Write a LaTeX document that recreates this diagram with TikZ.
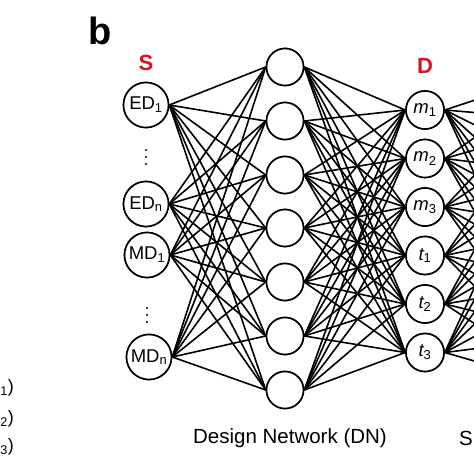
\documentclass[tikz,border=0pt]{standalone}
\usepackage{fontspec}
\setmainfont{Liberation Sans}
\definecolor{labred}{RGB}{214,22,28}
\begin{document}
\begin{tikzpicture}[x=1pt,y=-1pt,
  neuron/.style={circle,draw=black,line width=1.6pt,fill=white,inner sep=0pt},
  inneuron/.style={neuron,minimum size=45pt,font=\fontsize{18.5}{18.5}\selectfont},
  hidneuron/.style={neuron,minimum size=37pt},
  outneuron/.style={neuron,minimum size=38pt,font=\fontsize{18.5}{18.5}\selectfont},
  link/.style={line width=1.6pt,black},
  redlabel/.style={text=labred,font=\fontsize{22}{22}\selectfont\bfseries},
  dotmark/.style={fill=black,circle,inner sep=0pt,minimum size=2.2pt}
]
\useasboundingbox (0,0) rectangle (474,474);
\clip (0,0) rectangle (474,474);
% input layer
\node[inneuron] (i1) at (146,105) {ED\textsubscript{1}};
\node[inneuron] (i2) at (146,204) {ED\textsubscript{n}};
\node[inneuron] (i3) at (147,255) {MD\textsubscript{1}};
\node[inneuron] (i4) at (149,357) {MD\textsubscript{n}};
% hidden layer
\foreach \k/\yy in {1/67,2/121,3/175,4/228,5/282,6/336,7/390}
  \node[hidneuron] (h\k) at (285,\yy) {};
% output layer
\node[outneuron] (o1) at (425,110) {\itshape m\textsubscript{\upshape 1}};
\node[outneuron] (o2) at (425,158.5) {\itshape m\textsubscript{\upshape 2}};
\node[outneuron] (o3) at (425,207) {\itshape m\textsubscript{\upshape 3}};
\node[outneuron] (o4) at (425,255.5) {\itshape t\textsubscript{\upshape 1}};
\node[outneuron] (o5) at (425,304) {\itshape t\textsubscript{\upshape 2}};
\node[outneuron] (o6) at (425,352.5) {\itshape t\textsubscript{\upshape 3}};
% next (off-frame) layer
\foreach \k/\yy in {1/67,2/121,3/175,4/228,5/282,6/336,7/390}
  \coordinate (n\k) at (575,\yy);
% connections
\foreach \a in {1,...,4}
  \foreach \b in {1,...,7}
    \draw[link] (i\a.east) -- (h\b.west);
\foreach \a in {1,...,7}
  \foreach \b in {1,...,6}
    \draw[link] (h\a.east) -- (o\b.west);
\foreach \a in {1,...,6}
  \foreach \b in {1,...,7}
    \draw[link] (o\a.east) -- (n\b);
% redraw nodes on top
\node[inneuron] at (i1) {ED\textsubscript{1}};
\node[inneuron] at (i2) {ED\textsubscript{n}};
\node[inneuron] at (i3) {MD\textsubscript{1}};
\node[inneuron] at (i4) {MD\textsubscript{n}};
\foreach \k in {1,...,7} \node[hidneuron] at (h\k) {};
\node[outneuron] at (o1) {\itshape m\textsubscript{\upshape 1}};
\node[outneuron] at (o2) {\itshape m\textsubscript{\upshape 2}};
\node[outneuron] at (o3) {\itshape m\textsubscript{\upshape 3}};
\node[outneuron] at (o4) {\itshape t\textsubscript{\upshape 1}};
\node[outneuron] at (o5) {\itshape t\textsubscript{\upshape 2}};
\node[outneuron] at (o6) {\itshape t\textsubscript{\upshape 3}};
% vertical dots
\foreach \yy in {150,157,164} \node[dotmark] (da\yy) at (146,\yy) {};
\foreach \yy in {308,315,322} \node[dotmark] (db\yy) at (147,\yy) {};
% labels
\node[redlabel] (lS) at (146,63) {S};
\node[redlabel] (lD) at (425,66) {D};
\node[font=\fontsize{38}{38}\selectfont\bfseries] (lb) at (100,31) {b};
\node[font=\fontsize{20.5}{20.5}\selectfont] (ldn) at (290,438) {Design Network (DN)};
\node[font=\fontsize{20.5}{20.5}\selectfont,anchor=west,inner sep=0pt] (lsn) at (459,438) {S};
% fragments of the neighbouring panel
\foreach \k/\yy in {1/388,2/419,3/447}
  \node[font=\fontsize{18}{18}\selectfont,anchor=east,inner sep=0pt] (fr\k) at (14,\yy) {\textsubscript{\k})};
\end{tikzpicture}
\end{document}
